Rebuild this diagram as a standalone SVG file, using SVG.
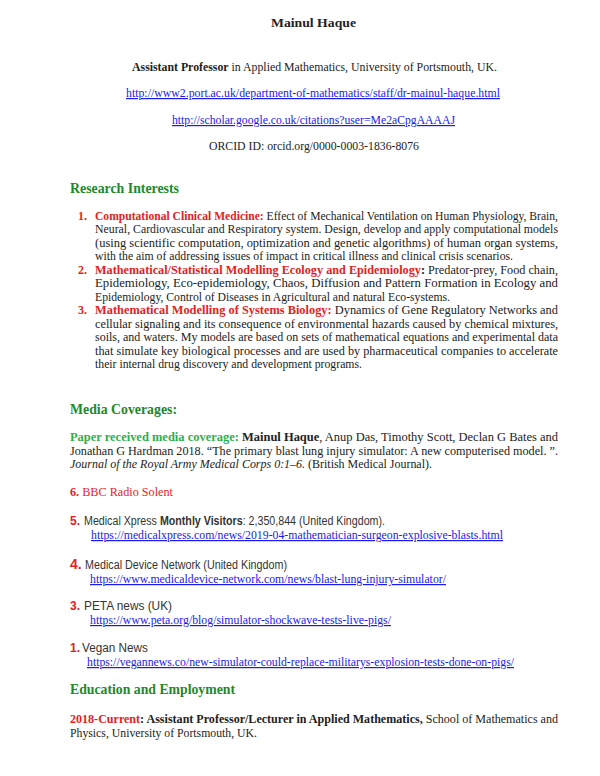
<svg xmlns="http://www.w3.org/2000/svg" width="600" height="776" viewBox="0 0 600 776">
<style>
text{font-family:"Liberation Serif",serif;font-size:12px;fill:#222}
.b{font-weight:bold}
.r{fill:#e41e1e}
.g{fill:#22882a;font-weight:bold;font-size:14.5px}
.lg{fill:#2db04b;font-weight:bold}
.u{fill:#1a1aee;text-decoration:underline}
.s{font-family:"Liberation Sans",sans-serif;font-size:12px;fill:#333}
.n{font-family:"Liberation Sans",sans-serif;font-weight:bold;fill:#e41e1e;font-size:12px}
</style>
<rect width="600" height="776" fill="#fff"/>
<g id="header">
<text x="271" y="27" class="b" style="font-size:13.5px" textLength="85" lengthAdjust="spacingAndGlyphs">Mainul Haque</text>
<text x="132" y="71" textLength="365" lengthAdjust="spacingAndGlyphs"><tspan class="b">Assistant Professor</tspan> in Applied Mathematics, University of Portsmouth, UK.</text>
<text x="126" y="97" class="u" textLength="374" lengthAdjust="spacingAndGlyphs">http://www2.port.ac.uk/department-of-mathematics/staff/dr-mainul-haque.html</text>
<text x="172" y="124" class="u" textLength="283" lengthAdjust="spacingAndGlyphs">http://scholar.google.co.uk/citations?user=Me2aCpgAAAAJ</text>
<text x="209" y="150" textLength="210" lengthAdjust="spacingAndGlyphs">ORCID ID: orcid.org/0000-0003-1836-8076</text>
</g>
<g id="research">
<text x="70" y="193" class="g" textLength="109" lengthAdjust="spacingAndGlyphs">Research Interests</text>
<text x="78" y="220" class="r b">1.</text>
<text x="95" y="220" textLength="463" lengthAdjust="spacingAndGlyphs"><tspan class="r b">Computational Clinical Medicine:</tspan> Effect of Mechanical Ventilation on Human Physiology, Brain,</text>
<text x="95" y="233" textLength="463" lengthAdjust="spacingAndGlyphs">Neural, Cardiovascular and Respiratory system. Design, develop and apply computational models</text>
<text x="95" y="247" textLength="463" lengthAdjust="spacingAndGlyphs">(using scientific computation, optimization and genetic algorithms) of human organ systems,</text>
<text x="95" y="260" textLength="418" lengthAdjust="spacingAndGlyphs">with the aim of addressing issues of impact in critical illness and clinical crisis scenarios.</text>
<text x="78" y="274" class="r b">2.</text>
<text x="95" y="274" textLength="463" lengthAdjust="spacingAndGlyphs"><tspan class="r b">Mathematical/Statistical Modelling Ecology and Epidemiology</tspan><tspan class="b">:</tspan> Predator-prey, Food chain,</text>
<text x="95" y="287" textLength="463" lengthAdjust="spacingAndGlyphs">Epidemiology, Eco-epidemiology, Chaos, Diffusion and Pattern Formation in Ecology and</text>
<text x="95" y="301" textLength="355" lengthAdjust="spacingAndGlyphs">Epidemiology, Control of Diseases in Agricultural and natural Eco-systems.</text>
<text x="78" y="314" class="r b">3.</text>
<text x="95" y="314" textLength="463" lengthAdjust="spacingAndGlyphs"><tspan class="r b">Mathematical Modelling of Systems Biology:</tspan> Dynamics of Gene Regulatory Networks and</text>
<text x="95" y="328" textLength="463" lengthAdjust="spacingAndGlyphs">cellular signaling and its consequence of environmental hazards caused by chemical mixtures,</text>
<text x="95" y="341" textLength="463" lengthAdjust="spacingAndGlyphs">soils, and waters. My models are based on sets of mathematical equations and experimental data</text>
<text x="95" y="355" textLength="463" lengthAdjust="spacingAndGlyphs">that simulate key biological processes and are used by pharmaceutical companies to accelerate</text>
<text x="95" y="368" textLength="267" lengthAdjust="spacingAndGlyphs">their internal drug discovery and development programs.</text>
</g>
<g id="media">
<text x="70" y="414" class="g" textLength="107" lengthAdjust="spacingAndGlyphs">Media Coverages:</text>
<text x="70" y="441" textLength="488" lengthAdjust="spacingAndGlyphs"><tspan class="lg">Paper received media coverage:</tspan> <tspan class="b">Mainul Haque</tspan>, Anup Das, Timothy Scott, Declan G Bates and</text>
<text x="70" y="455" textLength="488" lengthAdjust="spacingAndGlyphs">Jonathan G Hardman 2018. “The primary blast lung injury simulator: A new computerised model. ”.</text>
<text x="70" y="468" textLength="362" lengthAdjust="spacingAndGlyphs"><tspan font-style="italic">Journal of the Royal Army Medical Corps 0:1–6.</tspan>   (British Medical Journal).</text>
<text x="70" y="496" class="r" textLength="103" lengthAdjust="spacingAndGlyphs"><tspan class="b">6.</tspan>  BBC Radio Solent</text>
<text x="70" y="525" class="n">5.</text>
<text x="84" y="525" class="s" textLength="301" lengthAdjust="spacingAndGlyphs">Medical Xpress <tspan font-weight="bold">Monthly Visitors</tspan>: 2,350,844 (United Kingdom).</text>
<text x="91" y="539" class="u" textLength="412" lengthAdjust="spacingAndGlyphs">https://medicalxpress.com/news/2019-04-mathematician-surgeon-explosive-blasts.html</text>
<text x="70" y="569" class="n" style="font-size:14px">4.</text>
<text x="85" y="569" class="s" textLength="202" lengthAdjust="spacingAndGlyphs">Medical Device Network (United Kingdom)</text>
<text x="90" y="583" class="u" textLength="356" lengthAdjust="spacingAndGlyphs">https://www.medicaldevice-network.com/news/blast-lung-injury-simulator/</text>
<text x="70" y="610" class="n">3.</text>
<text x="84" y="610" class="s" textLength="88" lengthAdjust="spacingAndGlyphs">PETA news (UK)</text>
<text x="90" y="624" class="u" textLength="301" lengthAdjust="spacingAndGlyphs">https://www.peta.org/blog/simulator-shockwave-tests-live-pigs/</text>
<text x="70" y="652" class="n">1.</text>
<text x="82" y="652" class="s" textLength="66" lengthAdjust="spacingAndGlyphs">Vegan News</text>
<text x="87" y="666" class="u" textLength="427" lengthAdjust="spacingAndGlyphs">https://vegannews.co/new-simulator-could-replace-militarys-explosion-tests-done-on-pigs/</text>
</g>
<g id="education">
<text x="70" y="694" class="g" textLength="165" lengthAdjust="spacingAndGlyphs">Education and Employment</text>
<text x="70" y="723" textLength="488" lengthAdjust="spacingAndGlyphs"><tspan class="r b">2018-Current</tspan><tspan class="b">: Assistant Professor/Lecturer in Applied Mathematics,</tspan> School of Mathematics and</text>
<text x="70" y="737" textLength="187" lengthAdjust="spacingAndGlyphs">Physics, University of Portsmouth, UK.</text>
</g>
</svg>
